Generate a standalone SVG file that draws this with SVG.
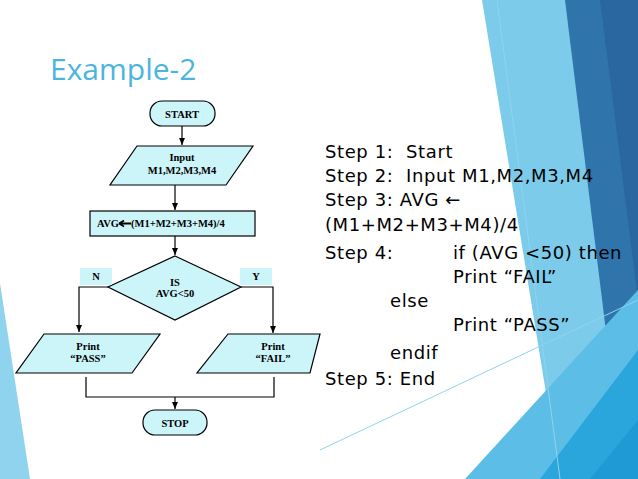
<svg xmlns="http://www.w3.org/2000/svg" width="638" height="479" viewBox="0 0 638 479">
<style>
.sh{fill:#ccf5fa;stroke:#000;stroke-width:1.2}
.ft{font-family:"Liberation Serif",serif;font-weight:bold;font-size:10.5px;text-anchor:middle;fill:#000}
.st{font-family:"DejaVu Sans",sans-serif;font-size:18px;letter-spacing:0.6px;fill:#000;white-space:pre}
.ln{fill:none;stroke:#000;stroke-width:1.2}
</style>
<defs><marker id="a" markerWidth="8" markerHeight="8" refX="7" refY="4" orient="auto" markerUnits="userSpaceOnUse"><path d="M0,1 L7,4 L0,7z" fill="#000"/></marker></defs>
<rect width="638" height="479" fill="#fff"/>
<g id="decor">
<polygon points="0,283 30,479 0,479" fill="#8fd3ef"/>
<polygon points="482,0 638,0 638,479 560,479" fill="#7ccbeb"/>
<polygon points="565,0 638,0 638,430 612,380" fill="#2f74ab"/>
<polygon points="600,0 638,0 638,300" fill="#2a67a0"/>
<polygon points="465,479 638,290 638,479" fill="#5cbde6"/>
<polygon points="540,479 638,350 638,479" fill="#2aa6dc"/>
<polygon points="590,479 638,420 638,479" fill="#1f9ad4"/>
<line x1="497" y1="0" x2="560" y2="479" stroke="#8fd3ef" stroke-width="1"/>
<line x1="320" y1="450" x2="638" y2="300" stroke="#8fd3ef" stroke-width="1"/>
</g>
<text x="50" y="80" font-family="Open Sans,DejaVu Sans,sans-serif" font-size="30" fill="#4db5dc">Example-2</text>
<g id="connectors">
<line class="ln" x1="182" y1="126" x2="182" y2="145" marker-end="url(#a)"/>
<line class="ln" x1="175" y1="185" x2="175" y2="210" marker-end="url(#a)"/>
<line class="ln" x1="175" y1="236" x2="175" y2="255" marker-end="url(#a)"/>
<polyline class="ln" points="109,287 79,287 79,332" marker-end="url(#a)"/>
<polyline class="ln" points="241,287 273,287 273,333" marker-end="url(#a)"/>
<polyline class="ln" points="86,377 86,397 274,397 274,377"/>
<line class="ln" x1="175" y1="397" x2="175" y2="409" marker-end="url(#a)"/>
</g>
<g id="start"><rect class="sh" x="150" y="101" width="65" height="25" rx="12"/><text class="ft" x="182" y="118">START</text></g>
<g id="input"><polygon class="sh" points="137,146 253,146 226,185 110,185"/><text class="ft" x="182" y="161">Input</text><text class="ft" x="182" y="174">M1,M2,M3,M4</text></g>
<g id="avg"><rect class="sh" x="90" y="211" width="165" height="25"/><text class="ft" x="97" y="227" style="text-anchor:start">AVG</text><path d="M119,223.5 H131 M119,223.5 L124,220.5 M119,223.5 L124,226.5" stroke="#000" stroke-width="1.8" fill="none"/><text class="ft" x="131" y="227" style="text-anchor:start">(M1+M2+M3+M4)/4</text></g>
<g id="decision"><polygon class="sh" points="175,256 241,287 175,320 108,287"/><text class="ft" x="175" y="286">IS</text><text class="ft" x="175" y="297">AVG&lt;50</text></g>
<g id="n"><rect x="80" y="268" width="32" height="17" fill="#ccf5fa"/><text class="ft" x="96" y="280">N</text></g>
<g id="y"><rect x="240" y="268" width="32" height="17" fill="#ccf5fa"/><text class="ft" x="256" y="280">Y</text></g>
<g id="pass"><polygon class="sh" points="44,334 160,334 132,373 16,373"/><text class="ft" x="88" y="350">Print</text><text class="ft" x="88" y="362">“PASS”</text></g>
<g id="fail"><polygon class="sh" points="228,334 320,334 310,373 197,373"/><text class="ft" x="273" y="350">Print</text><text class="ft" x="273" y="362">“FAIL”</text></g>
<g id="stop"><rect class="sh" x="143" y="410" width="64" height="25" rx="12"/><text class="ft" x="175" y="427">STOP</text></g>
<g id="steps">
<text class="st" x="325" y="158" xml:space="preserve">Step 1:  Start</text>
<text class="st" x="325" y="182" xml:space="preserve">Step 2:  Input M1,M2,M3,M4</text>
<text class="st" x="325" y="206" xml:space="preserve">Step 3: AVG ←</text>
<text class="st" x="325" y="231">(M1+M2+M3+M4)/4</text>
<text class="st" x="325" y="259">Step 4:</text>
<text class="st" x="453" y="259">if (AVG &lt;50) then</text>
<text class="st" x="453" y="283">Print “FAIL”</text>
<text class="st" x="390" y="307">else</text>
<text class="st" x="453" y="331">Print “PASS”</text>
<text class="st" x="390" y="359">endif</text>
<text class="st" x="325" y="385">Step 5: End</text>
</g>
</svg>
